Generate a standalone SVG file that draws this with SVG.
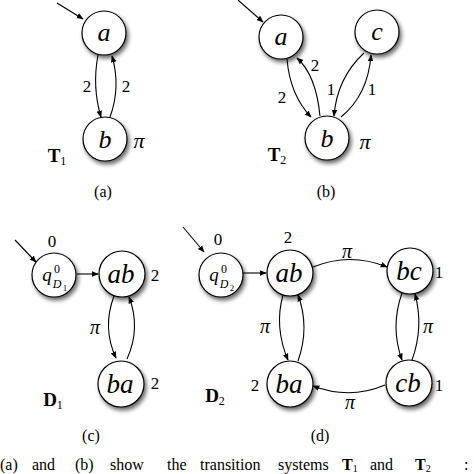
<svg xmlns="http://www.w3.org/2000/svg" width="474" height="474" viewBox="0 0 474 474">
<defs>
<filter id="sh" x="-30%" y="-30%" width="170%" height="170%">
<feGaussianBlur in="SourceAlpha" stdDeviation="2"/>
<feOffset dx="1.5" dy="2.5" result="b"/>
<feComponentTransfer><feFuncA type="linear" slope="0.6"/></feComponentTransfer>
<feMerge><feMergeNode/><feMergeNode in="SourceGraphic"/></feMerge>
</filter>
<marker id="ar" viewBox="0 0 10 10" refX="9" refY="5" markerWidth="7" markerHeight="7" markerUnits="userSpaceOnUse" orient="auto">
<path d="M0,1 L10,5 L0,9 z" fill="#000"/>
</marker>
</defs>
<style>
text{font-family:"Liberation Serif","Times New Roman","DejaVu Serif",serif;fill:#000}
.n{fill:#fff;stroke:#000;stroke-width:1.2;filter:url(#sh)}
.l{font-style:italic;text-anchor:middle}
.t{text-anchor:middle}
.b{font-weight:bold;text-anchor:middle}
.e{fill:none;stroke:#000;stroke-width:1.1;marker-end:url(#ar)}
</style>
<rect width="474" height="474" fill="#fff"/>

<g id="connectors">
<path class="e" d="M57,3 L83,19"/>
<path class="e" d="M98,55 Q92,87 101,117"/>
<path class="e" d="M110,117 Q121,87 112,56"/>
<path class="e" d="M238,0 L263,22"/>
<path class="e" d="M287,59 Q290,95 311,117"/>
<path class="e" d="M320,116 Q316,75 297,58"/>
<path class="e" d="M364,53 Q337,78 334,116"/>
<path class="e" d="M341,117 Q368,95 371,55"/>
<path class="e" d="M15,240 L36,262"/>
<path class="e" d="M77,274 L98,274"/>
<path class="e" d="M114,296 Q102,328 116,358"/>
<path class="e" d="M127,359 Q141,328 129,297"/>
<path class="e" d="M183,227 L204,252"/>
<path class="e" d="M243,273 L266,273"/>
<path class="e" d="M313,267 Q350,252 387,267"/>
<path class="e" d="M385,385 Q350,400 313,386"/>
<path class="e" d="M283,295 Q274,327 288,360"/>
<path class="e" d="M298,361 Q310,327 298,295"/>
<path class="e" d="M402,293 Q390,327 402,360"/>
<path class="e" d="M412,360 Q424,327 415,294"/>
</g>

<g id="node-T1-a"><circle class="n" cx="104" cy="33" r="22"/><text class="l" x="104" y="41" font-size="26">a</text></g>
<g id="node-T1-b"><circle class="n" cx="105" cy="139" r="22"/><text class="l" x="105" y="148" font-size="26">b</text></g>
<g id="node-T2-a"><circle class="n" cx="281" cy="37" r="22"/><text class="l" x="281" y="45" font-size="26">a</text></g>
<g id="node-T2-c"><circle class="n" cx="377" cy="32" r="22"/><text class="l" x="377" y="40" font-size="26">c</text></g>
<g id="node-T2-b"><circle class="n" cx="327" cy="138" r="22"/><text class="l" x="327" y="147" font-size="26">b</text></g>

<g id="node-D1-q"><circle class="n" cx="54" cy="275" r="22"/><text class="l" x="47" y="281" font-size="19">q</text><text class="t" x="57" y="273" font-size="12">0</text><text class="l" x="57" y="288" font-size="12">D</text><text class="t" x="65" y="291" font-size="9">1</text></g>
<g id="node-D1-ab"><circle class="n" cx="122" cy="274" r="23"/><text class="l" x="121" y="283" font-size="27">ab</text></g>
<g id="node-D1-ba"><circle class="n" cx="121" cy="384" r="23"/><text class="l" x="120" y="393" font-size="27">ba</text></g>

<g id="node-D2-q"><circle class="n" cx="221" cy="275" r="22"/><text class="l" x="214" y="281" font-size="19">q</text><text class="t" x="224" y="273" font-size="12">0</text><text class="l" x="224" y="288" font-size="12">D</text><text class="t" x="232" y="291" font-size="9">2</text></g>
<g id="node-D2-ab"><circle class="n" cx="290" cy="273" r="23"/><text class="l" x="289" y="282" font-size="27">ab</text></g>
<g id="node-D2-bc"><circle class="n" cx="410" cy="271" r="23"/><text class="l" x="409" y="280" font-size="27">bc</text></g>
<g id="node-D2-cb"><circle class="n" cx="409" cy="383" r="23"/><text class="l" x="408" y="392" font-size="27">cb</text></g>
<g id="node-D2-ba"><circle class="n" cx="290" cy="384" r="23"/><text class="l" x="289" y="393" font-size="27">ba</text></g>

<g id="labels">
<text class="t" x="87" y="92" font-size="17">2</text>
<text class="t" x="126" y="92" font-size="17">2</text>
<text class="l" x="139" y="148" font-size="22">π</text>
<text class="b" x="57" y="162" font-size="19">T<tspan font-size="12" font-weight="normal" dy="3">1</tspan></text>
<text class="t" x="103" y="197" font-size="16">(a)</text>

<text class="t" x="315" y="71" font-size="17">2</text>
<text class="t" x="282" y="103" font-size="17">2</text>
<text class="t" x="331" y="95" font-size="17">1</text>
<text class="t" x="372" y="95" font-size="17">1</text>
<text class="l" x="365" y="149" font-size="22">π</text>
<text class="b" x="277" y="161" font-size="19">T<tspan font-size="12" font-weight="normal" dy="3">2</tspan></text>
<text class="t" x="326" y="197" font-size="16">(b)</text>

<text class="t" x="52" y="247" font-size="17">0</text>
<text class="t" x="155" y="281" font-size="17">2</text>
<text class="l" x="95" y="334" font-size="20">π</text>
<text class="t" x="155" y="389" font-size="17">2</text>
<text class="b" x="53" y="406" font-size="19">D<tspan font-size="12" font-weight="normal" dy="3">1</tspan></text>
<text class="t" x="91" y="441" font-size="16">(c)</text>

<text class="t" x="218" y="245" font-size="17">0</text>
<text class="t" x="288" y="243" font-size="17">2</text>
<text class="l" x="347" y="258" font-size="20">π</text>
<text class="t" x="439" y="278" font-size="17">1</text>
<text class="l" x="265" y="333" font-size="20">π</text>
<text class="l" x="428" y="333" font-size="20">π</text>
<text class="t" x="255" y="391" font-size="17">2</text>
<text class="t" x="439" y="391" font-size="17">1</text>
<text class="l" x="350" y="409" font-size="20">π</text>
<text class="b" x="215" y="402" font-size="19">D<tspan font-size="12" font-weight="normal" dy="3">2</tspan></text>
<text class="t" x="320" y="441" font-size="16">(d)</text>
</g>

<g id="caption" font-size="16">
<text x="0" y="470">(a)</text>
<text x="32" y="470">and</text>
<text x="75" y="470">(b)</text>
<text x="110" y="470">show</text>
<text x="167" y="470">the</text>
<text x="200" y="470">transition</text>
<text x="278" y="470">systems</text>
<text x="342" y="470" font-weight="bold">T<tspan font-size="10" font-weight="normal" dy="2">1</tspan></text>
<text x="370" y="470">and</text>
<text x="415" y="470" font-weight="bold">T<tspan font-size="10" font-weight="normal" dy="2">2</tspan></text>
<text x="464" y="470">:</text>
</g>
</svg>
